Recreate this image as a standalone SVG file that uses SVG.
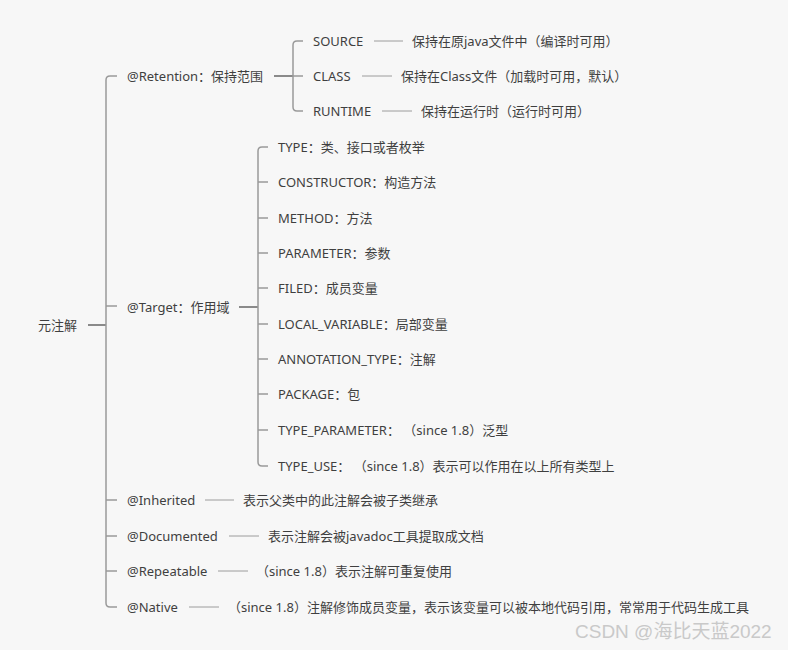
<svg xmlns="http://www.w3.org/2000/svg" width="788" height="650" viewBox="0 0 788 650">
<style>
text{font-family:"Noto Sans","Noto Sans CJK SC",sans-serif;font-size:13px;fill:#3f3f3f}
.wm{font-family:"Liberation Sans","Noto Sans CJK SC",sans-serif;font-size:19px;fill:#c9c9c9}
.br{fill:none;stroke:#9a9a9a;stroke-width:1.5}
.lk{fill:none;stroke:#8a8a8a;stroke-width:2}
.ds{fill:none;stroke:#9c9c9c;stroke-width:1}
</style>
<rect width="788" height="650" fill="#f7f7f7"/>
<g id="connectors">
<path class="lk" d="M88 325H106"/>
<path class="br" d="M117 76H110Q106 76 106 80V603Q106 607 110 607H117M106 306H117M106 500H117M106 536H117M106 571H117"/>
<path class="lk" d="M274 76H293"/>
<path class="br" d="M303 41H297Q293 41 293 45V107Q293 111 297 111H303M293 76H303"/>
<path class="lk" d="M239 307H258"/>
<path class="br" d="M268 147H262Q258 147 258 151V462Q258 466 262 466H268M258 182H268M258 218H268M258 253H268M258 288H268M258 324H268M258 359H268M258 394H268M258 430H268"/>
<path class="ds" d="M374 41H403M362 76H392M382 111H412M205 500H234M229 536H259M218 571H248M189 607H219"/>
</g>
<g id="root"><text x="38" y="329.5">元注解</text></g>
<g id="retention"><text x="127" y="80.5">@Retention：保持范围</text></g>
<g id="source"><text x="313" y="45.5">SOURCE</text><text x="412" y="45.5">保持在原java文件中（编译时可用）</text></g>
<g id="class"><text x="313" y="80.5">CLASS</text><text x="401" y="80.5">保持在Class文件（加载时可用，默认）</text></g>
<g id="runtime"><text x="313" y="115.5">RUNTIME</text><text x="421" y="115.5">保持在运行时（运行时可用）</text></g>
<g id="target"><text x="127" y="311.5">@Target：作用域</text></g>
<g id="t-type"><text x="278" y="151.5">TYPE：类、接口或者枚举</text></g>
<g id="t-constructor"><text x="278" y="186.5">CONSTRUCTOR：构造方法</text></g>
<g id="t-method"><text x="278" y="222.5">METHOD：方法</text></g>
<g id="t-parameter"><text x="278" y="257.5">PARAMETER：参数</text></g>
<g id="t-filed"><text x="278" y="292.5">FILED：成员变量</text></g>
<g id="t-local"><text x="278" y="328.5">LOCAL_VARIABLE：局部变量</text></g>
<g id="t-annotation"><text x="278" y="363.5">ANNOTATION_TYPE：注解</text></g>
<g id="t-package"><text x="278" y="398.5">PACKAGE：包</text></g>
<g id="t-typeparam"><text x="278" y="434.5">TYPE_PARAMETER：&#160;（since 1.8）泛型</text></g>
<g id="t-typeuse"><text x="278" y="470.5">TYPE_USE：&#160;（since 1.8）表示可以作用在以上所有类型上</text></g>
<g id="inherited"><text x="127" y="504.5">@Inherited</text><text x="243" y="504.5">表示父类中的此注解会被子类继承</text></g>
<g id="documented"><text x="127" y="540.5">@Documented</text><text x="268" y="540.5">表示注解会被javadoc工具提取成文档</text></g>
<g id="repeatable"><text x="127" y="575.5">@Repeatable</text><text x="256" y="575.5">（since 1.8）表示注解可重复使用</text></g>
<g id="native"><text x="127" y="611.5">@Native</text><text x="228" y="611.5">（since 1.8）注解修饰成员变量，表示该变量可以被本地代码引用，常常用于代码生成工具</text></g>
<text class="wm" x="575" y="638">CSDN @海比天蓝2022</text>
</svg>
